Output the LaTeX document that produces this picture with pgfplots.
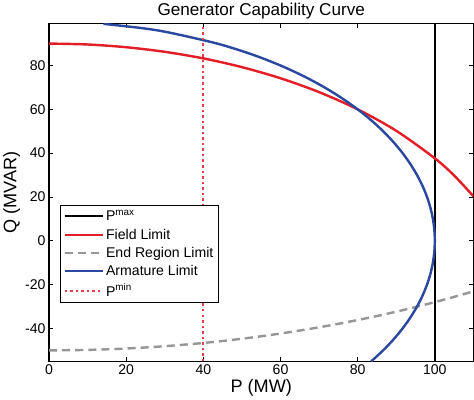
\documentclass[border=0pt]{standalone}
\usepackage{pgfplots}
\pgfplotsset{compat=1.18}
\usepackage{fontspec}
\setmainfont{Liberation Sans}
\definecolor{fred}{RGB}{228,30,38}
\definecolor{pred}{RGB}{232,60,70}
\definecolor{ablue}{RGB}{42,72,160}
\definecolor{egray}{RGB}{150,150,150}
\begin{document}
\begin{tikzpicture}
\begin{axis}[
  scale only axis, width=420bp, height=334bp,
  xmin=0, xmax=110, ymin=-55, ymax=99,
  xtick={0,20,...,100}, ytick={-40,-20,...,80},
  tick align=inside, tick style={black, line width=0.8pt},
  major tick length=4pt,
  axis line style={black, line width=1.2pt},
  /pgf/number format/assume math mode=true,
  ticklabel style={font=\fontsize{14}{16}\selectfont},
  xlabel={P (MW)}, ylabel={Q (MVAR)},
  label style={font=\fontsize{18}{20}\selectfont},
  xlabel style={yshift=2pt}, ylabel style={yshift=-2pt},
  title={Generator Capability Curve},
  title style={font=\fontsize{17}{19}\selectfont, yshift=-5pt},
  legend style={at={(0.026,0.464)}, anchor=north west, draw=black, line width=1pt,
    font=\fontsize{14}{16}\selectfont, row sep=2.5pt, inner sep=3pt},
  legend cell align=left,
  legend image code/.code={\draw[#1, line width=2.2pt] (0cm,0cm) -- (38pt,0cm);},
]
\addplot[black, line width=2.2pt] coordinates {(100,-55) (100,99)};
\addlegendentry{P\textsuperscript{max}}
\addplot[fred, line width=2.4pt, smooth] coordinates {
(0,90.00) (10,89.59) (20,88.34) (30,86.24) (40,83.24) (50,79.25) (60,74.18)
(70,67.85) (80,60.00) (90,50.21) (100,37.64) (105,29.80) (110,20.33)};
\addlegendentry{Field Limit}
\addplot[egray, line width=2.4pt, dash pattern=on 8pt off 5pt, smooth] coordinates {
(0,-50.00) (10,-49.79) (20,-49.16) (30,-48.10) (40,-46.62) (50,-44.70) (60,-42.32)
(70,-39.48) (80,-36.17) (90,-32.35) (100,-28.00) (110,-23.09)};
\addlegendentry{End Region Limit}
\addplot[ablue, line width=2.4pt, smooth] coordinates {
(83.52,-55) (86.60,-50) (89.30,-45) (91.65,-40) (93.67,-35) (95.39,-30) (96.82,-25)
(97.98,-20) (98.87,-15) (99.50,-10) (99.87,-5) (100,0) (99.87,5) (99.50,10)
(98.87,15) (97.98,20) (96.82,25) (95.39,30) (93.67,35) (91.65,40) (89.30,45)
(86.60,50) (83.52,55) (80,60) (75.99,65) (71.41,70) (66.14,75) (60,80)
(52.68,85) (43.59,90) (31.22,95) (24.31,97) (14.11,99)};
\addlegendentry{Armature Limit}
\addplot[draw=pred, color=pred, line width=1.8pt, dash pattern=on 2.5pt off 3pt] coordinates {(40,-55) (40,99)};
\addlegendentry{P\textsuperscript{min}}
\end{axis}
\end{tikzpicture}
\end{document}
